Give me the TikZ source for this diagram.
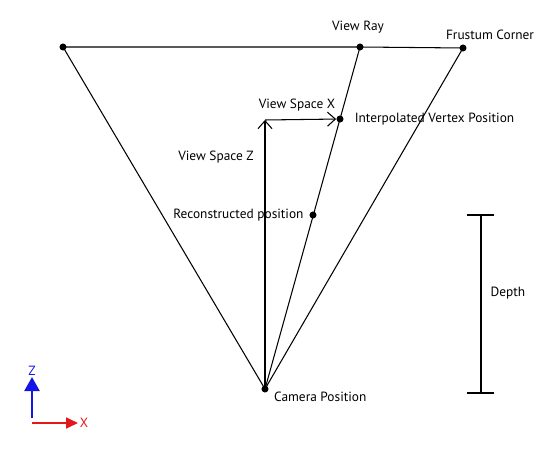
\documentclass[tikz,border=0pt]{standalone}
\usepackage{fontspec}
\setmainfont{PT Sans}
\usetikzlibrary{arrows.meta, positioning, calc}
\definecolor{axisblue}{RGB}{20,20,230}
\definecolor{axisred}{RGB}{225,25,25}

\tikzset{
    dot/.style={circle, fill=black, inner sep=0pt, minimum size=4pt},
    lbl/.style={font=\fontsize{7.6}{9}\selectfont, inner sep=1pt},
    ray/.style={line width=0.6pt},
}

\begin{document}
\begin{tikzpicture}[x=0.02cm, y=-0.02cm]
            \useasboundingbox (0,0) rectangle (553,462);
            % frustum points
            \node[dot] (farleft) at (63,47) {};
            \node[dot] (viewray) at (360,47) {};
            \node[dot] (corner) at (463,48) {};
            \node[dot] (camera) at (265,389) {};
            \node[dot] (interp) at (340,119) {};
            \node[dot] (recon) at (313,215) {};
            \coordinate (zend) at (265,120);
            \draw[ray] (farleft.center) -- (viewray.center) -- (corner.center);
            \draw[ray] (farleft.center) -- (camera.center) -- (viewray.center);
            \draw[ray] (camera.center) -- (corner.center);
            % view space axes
            \draw[ray, -{Straight Barb[length=4.5pt, width=8pt]}] (camera.center) -- (zend);
            \draw[ray, -{Straight Barb[length=4.5pt, width=8pt]}] (zend) -- (interp);
            % depth bar
            \coordinate (dtop) at (481,215);
            \coordinate (dbot) at (481,393);
            \draw[ray] (dtop) -- (dbot);
            \draw[ray] ($(dtop)+(-14,0)$) -- ($(dtop)+(13,0)$);
            \draw[ray] ($(dbot)+(-14,0)$) -- ($(dbot)+(13,0)$);
            % labels
            \node[lbl] at (358,27) {View Ray};
            \node[lbl] at (490,35) {Frustum Corner};
            \node[lbl] at (297,105) {View Space X};
            \node[lbl, right=5pt of interp] {Interpolated Vertex Position};
            \node[lbl] at (216,157) {View Space Z};
            \node[lbl, left=2pt of recon] {Reconstructed position};
            \node[lbl] at (508,293) {Depth};
            \node[lbl, anchor=west] at (272,397) {Camera Position};
            % world axes
            \coordinate (origin) at (32,423);
            \draw[axisblue, line width=1.5pt, -{Triangle[length=8pt, width=8.5pt]}] ($(origin)+(0,-5)$) -- (32,377) node[above, lbl, text=axisblue, inner sep=0pt] {Z};
            \draw[axisred, line width=1.1pt, -{Triangle[length=6.8pt, width=6.2pt]}] (origin) -- (78,423) node[right, lbl, text=axisred, inner sep=0.5pt] {X};
        \end{tikzpicture}
\end{document}
